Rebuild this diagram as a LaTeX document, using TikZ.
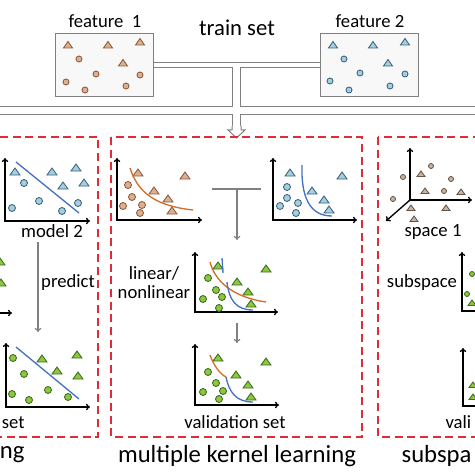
\documentclass[tikz,border=0pt]{standalone}
\usepackage{fontspec}
\setmainfont{Carlito}
\usetikzlibrary{arrows.meta}
\definecolor{orgL}{RGB}{222,176,146}
\definecolor{orgD}{RGB}{140,90,60}
\definecolor{bluL}{RGB}{166,206,224}
\definecolor{bluD}{RGB}{60,100,125}
\definecolor{grnL}{RGB}{141,198,63}
\definecolor{grnD}{RGB}{60,110,30}
\definecolor{gryL}{RGB}{205,180,160}
\definecolor{gryD}{RGB}{100,85,75}
\definecolor{lineblue}{RGB}{68,114,196}
\definecolor{lineorg}{RGB}{210,110,40}
\definecolor{dashred}{RGB}{222,45,55}
\definecolor{pipegray}{RGB}{128,128,128}
\definecolor{boxfill}{RGB}{248,248,248}
\tikzset{every picture/.style={line width=0.75pt}}
\tikzset{
  lbl/.style={font=\fontsize{14}{15}\selectfont, inner sep=0pt},
  biglbl/.style={font=\fontsize{18.5}{20}\selectfont, inner sep=0pt},
  fbox/.style={draw=pipegray, fill=boxfill, minimum width=73.5pt, minimum height=47.25pt},
  panel/.style={draw=dashred, line width=1.3pt, dash pattern=on 6pt off 3.5pt},
  axis/.style={black, line width=1pt, {To[length=3pt,width=5pt]}-{To[length=3pt,width=5pt]}},
  ray/.style={black, line width=1pt, -{To[length=3pt,width=5pt]}},
  flow/.style={pipegray, line width=0.9pt},
  flowto/.style={flow, -{To[length=3pt,width=5pt]}},
  pipeout/.style={pipegray, line width=#1},
  pipein/.style={white, line width=#1},
  mk/.style 2 args={draw=#1, fill=#2, line width=0.65pt},
  orgpt/.style={mk={orgD}{orgL}},
  blupt/.style={mk={bluD}{bluL}},
  grnpt/.style={mk={grnD}{grnL}},
  grypt/.style={mk={gryD}{gryL}},
  sep/.style={line width=1pt}
}

\begin{document}
\begin{tikzpicture}[x=0.75pt,y=0.75pt,yscale=-1,xscale=1]
\useasboundingbox (0,0) rectangle (474,474);

% Text Node
\node (trainlbl) at (237,28) [lbl, font=\fontsize{17}{18}\selectfont] {train set};
% Text Node
\node (feat1lbl) at (105,21) [lbl] {feature\ \ 1};
% Text Node
\node (feat2lbl) at (370,21) [lbl] {feature 2};

%Shape: Feature boxes
\node (f1) at (104,65.5) [fbox] {};
\node (f2) at (369.5,65.5) [fbox] {};

%Pipes
\coordinate (split) at (236.5,65.5);
\coordinate (hub) at (236.5,111);
\coordinate (busL) at (-10,111);
\coordinate (busR) at (484,111);
\coordinate (drop) at (236.5,128);
\draw [pipeout=4.5pt] (f1.east) -- (f2.west);
\draw [pipeout=6.75pt] (split) -- (hub) -- (drop) (busL) -- (busR);
\draw [pipein=3pt] (f1.east) -- (f2.west);
\draw [pipein=5.25pt] (split) -- (hub) -- (drop) (busL) -- (busR);
\path [draw=pipegray, fill=white, line width=0.75pt] (232,126) -- (232,130) -- (228,130) -- (236.5,138) -- (245,130) -- (241,130) -- (241,126);

%Points in feature 1
\foreach \p in {(68,45),(108,45),(140,42),(123,63)}
  \draw [orgpt] \p ++(-4.5,3) -- ++(9,0) -- ++(-4.5,-6.5) -- cycle;
\foreach \p in {(79,59),(96,74),(66,82),(85,90),(126,86),(140,75)}
  \draw [orgpt] \p circle (3);
%Points in feature 2
\foreach \p in {(333,45),(373,45),(405,42),(388,63)}
  \draw [blupt] \p ++(-4.5,3) -- ++(9,0) -- ++(-4.5,-6.5) -- cycle;
\foreach \p in {(344,59),(360,73),(330,81),(349,90),(390,86),(405,74)}
  \draw [blupt] \p circle (3);

%Dashed panels
\draw [panel] (-10,137) rectangle (98,437);
\draw [panel] (111,137) rectangle (362,437);
\draw [panel] (378,137) rectangle (484,437);

%%%% left panel
\draw [axis] (5,158) |- (90,221);
\foreach \p in {(15,172),(52,172),(76,168),(63,186),(84,183)}
  \draw [blupt] \p ++(-5,3) -- ++(10,0) -- ++(-5,-7) -- cycle;
\foreach \p in {(24,183),(12,208),(39,201),(62,211),(78,203)}
  \draw [blupt] \p circle (3.5);
\draw [sep, lineblue] (16,162) -- (79,213);
% Text Node
\node (model2) at (52,231) [lbl] {model 2};
\coordinate (predtip) at (38,332);
\draw [flowto] (model2.south -| predtip) ++(0,4) -- (predtip);
% Text Node
\node (predict) at (68,283) [lbl] {predict};
%cut-off plot on the left
\foreach \p in {(0,262),(1,283)}
  \draw [grnpt] \p ++(-5,3) -- ++(10,0) -- ++(-5,-7) -- cycle;
\draw [ray] (-20,313) -- (12,313);
%test plot
\draw [axis] (6,343) |- (90,407);
\foreach \p in {(42,359),(77,355),(57,371),(78,376)}
  \draw [grnpt] \p ++(-5,3) -- ++(10,0) -- ++(-5,-7) -- cycle;
\foreach \p in {(13,358),(24,374),(12,394),(29,400),(48,390),(68,397)}
  \draw [grnpt] \p circle (3.5);
\draw [sep, lineblue] (16,347) -- (79,399);
% Text Node
\node (setlbl) at (25,423) [lbl, anchor=east] {set};
% Text Node
\node (nglbl) at (25,455) [biglbl, anchor=east] {ng};

%%%% middle panel
%kernel 1
\draw [axis] (117,158) |- (202,220);
\foreach \p in {(138,173),(185,176),(154,191),(168,199),(172,211)}
  \draw [orgpt] \p ++(-5,3) -- ++(10,0) -- ++(-5,-7) -- cycle;
\foreach \p in {(128,185),(132,197),(123,206),(142,205),(140,213)}
  \draw [orgpt] \p circle (3.5);
\draw [sep, lineorg] (130,168) .. controls (138,193) and (156,206) .. (193,210);
%kernel 2
\draw [axis] (273,158) |- (357,220);
\foreach \p in {(290,173),(342,176),(312,191),(324,200),(329,210)}
  \draw [blupt] \p ++(-5,3) -- ++(10,0) -- ++(-5,-7) -- cycle;
\foreach \p in {(287,187),(287,198),(280,206),(298,203),(296,213)}
  \draw [blupt] \p circle (3.5);
\draw [sep, lineblue] (302,165) .. controls (301,196) and (309,216) .. (332,216);
%combine
\coordinate (joinL) at (212,189);
\coordinate (joinR) at (261,189);
\coordinate (join) at (237,189);
\coordinate (combtip) at (237,240);
\draw [flow] (joinL) -- (joinR);
\draw [flowto] (join) -- (combtip);
%combined kernel
\draw [axis] (195,252) |- (278,312);
\foreach \p in {(218,266),(266,269),(237,282),(248,292),(251,304)}
  \draw [grnpt] \p ++(-5,3) -- ++(10,0) -- ++(-5,-7) -- cycle;
\foreach \p in {(208,278),(216,290),(203,299),(222,297),(219,308)}
  \draw [grnpt] \p circle (3.5);
\draw [sep, lineorg] (210,262) .. controls (215,281) and (232,297) .. (266,302);
\draw [sep, lineblue] (222,258) -- (223,273);
\draw [sep, lineblue] (227,282) .. controls (229,300) and (236,310) .. (253,310);
% Text Node
\node (linlbl) at (154,282.5) [lbl, align=center, font=\fontsize{14}{14.5}\selectfont] {linear/\\nonlinear};
\coordinate (valtop) at (237,323);
\coordinate (valtip) at (237,343);
\draw [flowto] (valtop) -- (valtip);
%validation plot
\draw [axis] (195,344) |- (279,405);
\foreach \p in {(218,358),(266,362),(236,375),(248,385),(251,397)}
  \draw [grnpt] \p ++(-5,3) -- ++(10,0) -- ++(-5,-7) -- cycle;
\foreach \p in {(208,372),(216,383),(203,392),(223,391),(219,399)}
  \draw [grnpt] \p circle (3.5);
\draw [sep, lineorg] (210,355) .. controls (214,366) and (220,374) .. (226,377);
\draw [sep, lineblue] (226,377) .. controls (229,392) and (236,402) .. (253,402);
% Text Node
\node (valset) at (235,422) [lbl] {validation set};
% Text Node
\node (mkl) at (237,456) [biglbl] {multiple kernel learning};

%%%% right panel
\coordinate (o3) at (410,200);
\draw [ray] (o3) -- (410,148);
\draw [ray] (o3) -- (472,200);
\draw [ray] (o3) -- (386,221);
\foreach \p in {(421,174),(425,191),(461,192),(411,208),(446,208),(414,219)}
  \draw [grypt] \p ++(-4,2.5) -- ++(8,0) -- ++(-4,-5.5) -- cycle;
\foreach \p in {(431,166),(403,177),(451,179),(444,191),(393,199)}
  \draw [grypt] \p circle (2.5);
% Text Node
\node (space1) at (433,232) [lbl] {space 1};
% Text Node
\node (subsp) at (422,283) [lbl] {subspace};
\draw [axis] (462,252) |- (484,311);
\foreach \p in {(472,274),(467,294)}
  \draw [grnpt] \p circle (2.5);
\draw [grnpt] (472,303) ++(-4,2.5) -- ++(8,0) -- ++(-4,-5.5) -- cycle;
\draw [axis] (463,348) |- (484,406);
\foreach \p in {(473,385),(473,397)}
  \draw [grnpt] \p ++(-4,2.5) -- ++(8,0) -- ++(-4,-5.5) -- cycle;
% Text Node
\node (vali) at (445,422) [lbl, anchor=west] {vali};
% Text Node
\node (subspa) at (472,456) [biglbl, anchor=east] {subspa};

\end{tikzpicture}
\end{document}
